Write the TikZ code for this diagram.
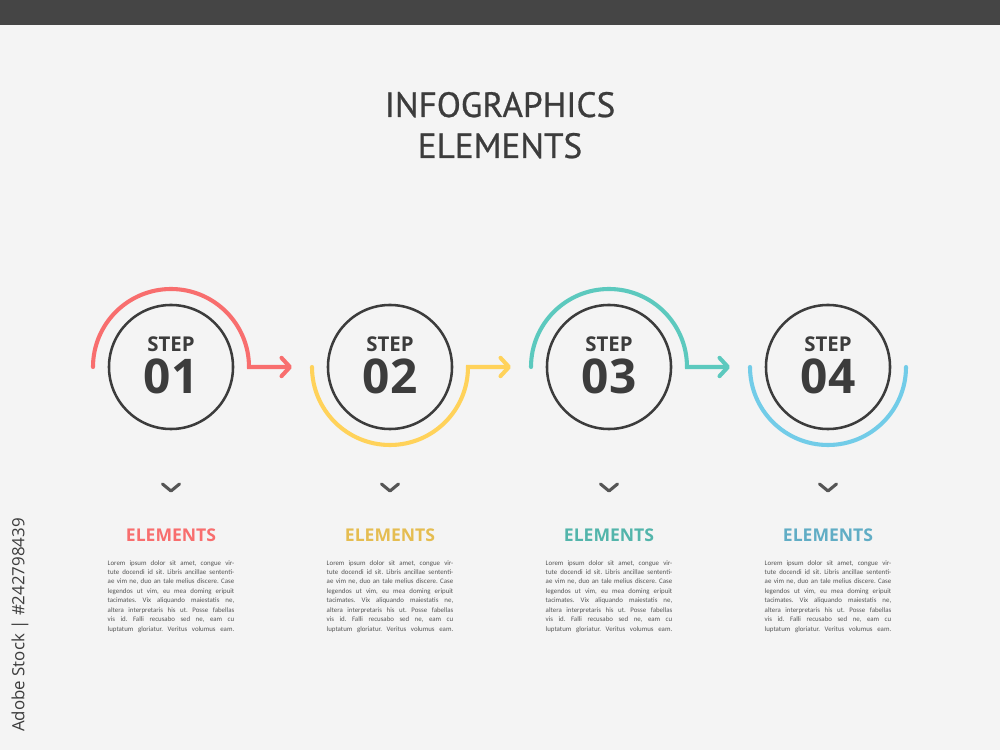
\documentclass[tikz,border=0pt]{standalone}
\usepackage{fontspec}
\setmainfont{Open Sans}
\newfontfamily\titlefont{PT Sans}[FakeBold=0.7]
\newfontfamily\bodyfont{Carlito}
\usepackage{tikz}
\usetikzlibrary{arrows.meta}
\usetikzlibrary{positioning}

\definecolor{bgcol}{HTML}{F4F4F4}
\definecolor{barcol}{HTML}{454545}
\definecolor{ringgray}{HTML}{3C3C3C}
\definecolor{chevgray}{HTML}{555555}
\definecolor{bodygray}{HTML}{555555}
\definecolor{stepred}{HTML}{F86E6E}
\definecolor{stepyellow}{HTML}{FFD25A}
\definecolor{stepteal}{HTML}{5CC9BE}
\definecolor{stepblue}{HTML}{72CCE8}

\frenchspacing
\newcommand{\pline}[1]{\makebox[90pt][s]{#1}}
\newcommand{\lorem}{%
\pline{Lorem ipsum dolor sit amet, congue vir-}\\
\pline{tute docendi id sit. Libris ancillae sententi-}\\
\pline{ae vim ne, duo an tale melius discere. Case}\\
\pline{legendos ut vim, eu mea doming eripuit}\\
\pline{tacimates. Vix aliquando maiestatis ne,}\\
\pline{altera interpretaris his ut. Posse fabellas}\\
\pline{vis id. Falli recusabo sed ne, eam cu}\\
\pline{luptatum gloriatur. Veritus volumus eam.}}

\begin{document}
\begin{tikzpicture}[x=0.025cm, y=0.025cm,
    >={Straight Barb[round, length=6pt, width=13pt]},
    ring/.style={draw=ringgray, circle, line width=1.8pt, minimum size=3.1cm, inner sep=0pt},
    steplbl/.style={font=\bfseries\fontsize{14.5}{16}\selectfont, text=ringgray, inner sep=0pt, anchor=base},
    numlbl/.style={font=\bfseries\fontsize{34}{36}\selectfont, text=ringgray, inner sep=0pt, anchor=base},
    arcline/.style={line width=2.9pt, line cap=round},
    chev/.style={draw=chevgray, line width=2.2pt, line cap=round, line join=round},
    elbl/.style={font=\bfseries\fontsize{12.5}{14}\selectfont, inner sep=0pt, anchor=base},
    bodytxt/.style={font=\bodyfont\fontsize{4.9}{6.7}\selectfont, text=bodygray, inner sep=0pt, align=center, anchor=north}]

    % background and top bar
    \useasboundingbox (0,0) rectangle (1000,750);
    \fill[bgcol] (0,0) rectangle (1000,750);
    \fill[barcol] (0,725) rectangle (1000,750);

    % title
    \node[font=\titlefont\fontsize{25}{28}\selectfont, text=ringgray, anchor=base] (title1) at (500,633) {INFOGRAPHICS};
    \node[font=\titlefont\fontsize{25}{28}\selectfont, text=ringgray, anchor=base] (title2) at (500,592) {ELEMENTS};

    % side text
    \node[rotate=90, font=\fontsize{12}{14}\selectfont, text=ringgray] (side) at (20,125) {Adobe Stock | \#242798439};

    % circles
    \node[ring] (s1) at (171,383) {};
    \node[ring] (s2) at (390,383) {};
    \node[ring] (s3) at (609,383) {};
    \node[ring] (s4) at (828,383) {};

    \node[steplbl] (st1) at ([shift={(0,15)}]s1.center) {STEP};
    \node[steplbl] (st2) at ([shift={(0,15)}]s2.center) {STEP};
    \node[steplbl] (st3) at ([shift={(0,15)}]s3.center) {STEP};
    \node[steplbl] (st4) at ([shift={(0,15)}]s4.center) {STEP};

    \node[numlbl] (n1) at ([shift={(0,-27)}]s1.center) {01};
    \node[numlbl] (n2) at ([shift={(0,-27)}]s2.center) {02};
    \node[numlbl] (n3) at ([shift={(0,-27)}]s3.center) {03};
    \node[numlbl] (n4) at ([shift={(0,-27)}]s4.center) {04};

    % arrow ends
    \coordinate (t1) at (292,383);
    \coordinate (t2) at (511,383);
    \coordinate (t3) at (730,383);

    \draw[arcline, stepred, ->] ([shift={(-78,0)}]s1.center) arc[start angle=180, end angle=0, radius=78] -- (t1);
    \draw[arcline, stepyellow, ->] ([shift={(-78,0)}]s2.center) arc[start angle=180, end angle=360, radius=78] -- (t2);
    \draw[arcline, stepteal, ->] ([shift={(-78,0)}]s3.center) arc[start angle=180, end angle=0, radius=78] -- (t3);
    \draw[arcline, stepblue] ([shift={(-78,0)}]s4.center) arc[start angle=180, end angle=360, radius=78];

    % chevrons
    \draw[chev] ([shift={(-8.5,-117)}]s1.center) -- ++(8.5,-7) -- ++(8.5,7);
    \draw[chev] ([shift={(-8.5,-117)}]s2.center) -- ++(8.5,-7) -- ++(8.5,7);
    \draw[chev] ([shift={(-8.5,-117)}]s3.center) -- ++(8.5,-7) -- ++(8.5,7);
    \draw[chev] ([shift={(-8.5,-117)}]s4.center) -- ++(8.5,-7) -- ++(8.5,7);

    % labels
    \node[elbl, text=stepred] (e1) at ([shift={(0,-175)}]s1.center) {ELEMENTS};
    \node[elbl, text=stepyellow!90!black] (e2) at ([shift={(0,-175)}]s2.center) {ELEMENTS};
    \node[elbl, text=stepteal!90!black] (e3) at ([shift={(0,-175)}]s3.center) {ELEMENTS};
    \node[elbl, text=stepblue!85!black] (e4) at ([shift={(0,-175)}]s4.center) {ELEMENTS};

    \node[bodytxt] (p1) at ([shift={(0,-193)}]s1.center) {\lorem};
    \node[bodytxt] (p2) at ([shift={(0,-193)}]s2.center) {\lorem};
    \node[bodytxt] (p3) at ([shift={(0,-193)}]s3.center) {\lorem};
    \node[bodytxt] (p4) at ([shift={(0,-193)}]s4.center) {\lorem};
\end{tikzpicture}
\end{document}
